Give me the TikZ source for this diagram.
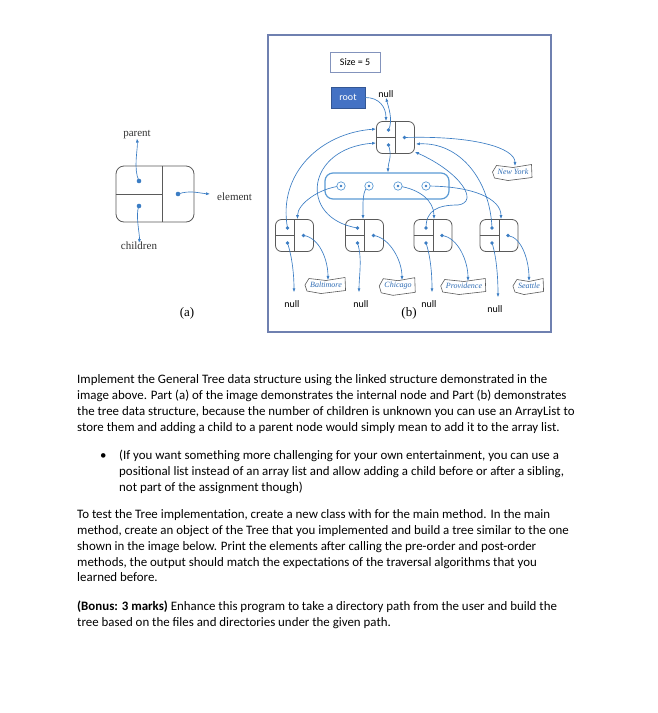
\documentclass[tikz,border=0pt]{standalone}
\usepackage{fontspec}
\setmainfont{Carlito}
\newfontfamily\seriffam{Liberation Serif}
\usetikzlibrary{arrows.meta,calc}
\definecolor{arrowblue}{HTML}{3B7DC4}
\definecolor{framec}{HTML}{6F80B0}
\definecolor{nodegray}{HTML}{5A5A5A}
\definecolor{rootfill}{HTML}{4472C4}
\definecolor{listblue}{HTML}{5B9BD5}
\definecolor{labelblue}{HTML}{2F6DB5}
\definecolor{sizebox}{HTML}{8393BC}
\newcommand\treenode[3]{%
  \node[tn] (#1) at (#2,#3) {};
  \draw[tdiv] (#1.north) -- (#1.south);
  \draw[tdiv] (#1.west) -- (#1.center);
  \coordinate (#1p) at ($(#1.center)+(-7,-7.5)$);
  \coordinate (#1c) at ($(#1.center)+(-7,7.5)$);
  \coordinate (#1e) at ($(#1.center)+(9,0)$);
}
\newcommand\wavy[1]{%
  \draw[lblline] ([xshift=1pt,yshift=1.5pt]#1.north west) -- ([yshift=-0.5pt]#1.north)
   -- ([xshift=1pt,yshift=2.5pt]#1.north east) -- ([xshift=1.5pt,yshift=-0.5pt]#1.south east)
   -- ([xshift=-5pt,yshift=-3.5pt]#1.south) -- ([xshift=-1pt,yshift=-1pt]#1.south west)
   -- ([xshift=-3pt]#1.west) -- cycle;}
\begin{document}
\begin{tikzpicture}[x=1pt,y=-1pt,
  arr/.style={draw=arrowblue, line width=0.65pt, -{Latex[length=4pt,width=3pt]}},
  tn/.style={draw=nodegray, line width=0.8pt, rounded corners=6pt, minimum width=38pt, minimum height=32pt, inner sep=0pt},
  tdiv/.style={draw=nodegray, line width=0.8pt},
  lblline/.style={draw=nodegray, line width=0.6pt, line join=round},
  body/.style={anchor=base west, inner sep=0pt, font=\fontsize{12.9}{16}\selectfont},
  nul/.style={font=\fontsize{10}{12}\selectfont, inner sep=1pt},
  elab/.style={font=\seriffam\itshape\fontsize{8}{10}\selectfont, text=labelblue, inner sep=2pt},
  plab/.style={font=\seriffam\fontsize{11}{13}\selectfont, text=black!80, inner sep=1pt},
  captext/.style={font=\seriffam\fontsize{13}{15}\selectfont, inner sep=1pt}
]
\useasboundingbox (0,0) rectangle (657,713);
\fill[white] (0,0) rectangle (657,713);

% ---------- part (a) ----------
\node[draw=nodegray, line width=0.8pt, rounded corners=8pt, minimum width=78pt, minimum height=56pt, inner sep=0pt] (an) at (155,194) {};
\coordinate (adivt) at (162,166);
\coordinate (adivb) at (162,222);
\draw[tdiv] (adivt) -- (adivb);
\draw[tdiv] (an.west) -- (162,194);
\coordinate (ap) at (139,181);
\coordinate (ac) at (139,206);
\coordinate (ae) at (178,194);
\node[plab] (parentl) at (137,135) {parent};
\node[plab] (childl) at (139,246) {children};
\node[plab, anchor=west] (eleml) at (216,197) {element};
\draw[arr] (ap) .. controls +(-6,-12) and +(1,10) .. ([yshift=2pt]parentl.south);
\draw[arr] (ac) .. controls +(-4,8) and +(1,-8) .. ([yshift=-2pt]childl.north);
\draw[arr] (ae) .. controls +(12,-4) and +(-12,-1) .. ([xshift=-6pt,yshift=3pt]eleml.west);
\foreach \d in {ap,ac,ae} \fill[arrowblue] (\d) circle (2.3pt);
\node[captext] (capa) at (187,313) {(a)};

% ---------- part (b) ----------
\node[draw=framec, line width=1.5pt, minimum width=283pt, minimum height=297pt, inner sep=0pt] (frame) at (409.5,183.5) {};
\node[draw=sizebox, line width=0.8pt, minimum width=50pt, minimum height=20pt, inner sep=0pt, font=\fontsize{10}{12}\selectfont] (size) at (355,62) {Size = 5};
\node[fill=rootfill, draw=rootfill!75!black, line width=0.6pt, text=white, minimum width=34pt, minimum height=21pt, inner sep=0pt, font=\fontsize{10}{12}\selectfont] (root) at (348,97.5) {root};
\node[nul] (nullr) at (386,94) {null};

\treenode{r}{395.5}{137.5}
\treenode{ca}{294.5}{235.5}
\treenode{cb}{364.5}{235.5}
\treenode{cc}{433}{235.5}
\treenode{cd}{499}{235.5}

% array list
\node[draw=listblue, line width=1.2pt, rounded corners=8pt, minimum width=124pt, minimum height=26pt, inner sep=0pt] (alist) at (387,186) {};
\coordinate (la) at (341,186);
\coordinate (lb) at (369,186);
\coordinate (lc) at (398,186);
\coordinate (ld) at (426,186);

% element labels
\node[elab] (ny) at (513,172) {New York};
\node[elab] (bal) at (326,285) {Baltimore};
\node[elab] (chi) at (398,286) {Chicago};
\node[elab] (pro) at (464,286) {Providence};
\node[elab] (sea) at (529,286) {Seattle};
\foreach \n in {ny,bal,chi,pro,sea} {\wavy{\n}}

% nulls
\node[nul] (na) at (292,304) {null};
\node[nul] (nb) at (361,304) {null};
\node[nul] (nc) at (429,304) {null};
\node[nul] (nd) at (495,309) {null};
\node[captext] (capb) at (409,313) {(b)};

% root connectors
\coordinate (rtop) at ($(r.north)+(-9.5,0)$);
\draw[arr] (root.east) .. controls +(14,0) and +(0,-14) .. (rtop);
\draw[arr] (rp) .. controls +(5,-10) and +(2,8) .. ([yshift=1pt]nullr.south);
\draw[arr] (rc) .. controls +(4,12) and +(0,-10) .. ([xshift=1pt]alist.north);
\draw[arr] (re) .. controls +(70,-2) and +(0,-18) .. ([xshift=2pt,yshift=1pt]ny.north);

% parent links
\coordinate (rlu) at ($(r.west)+(0,-8.5)$);
\coordinate (rll) at ($(r.west)+(0,5.5)$);
\coordinate (rru) at ($(r.east)+(1,6.5)$);
\coordinate (rrl) at ($(r.south east)+(0,-2)$);
\draw[arr] (cap) .. controls +(-10,-55) and +(-55,4) .. (rlu);
\draw[arr] (cbp) .. controls +(-60,-10) and +(-70,5) .. (rll);
\draw[arr] (cdp) .. controls +(-2,-48) and +(44,-2) .. (rru);
\coordinate (wrap) at (458,205);
\draw[arr] (ccp) .. controls +(0,-18) and +(-20,0) .. (wrap) .. controls +(22,-3) and +(45,20) .. (rrl);

% list to children
\draw[arr] (la) .. controls +(-22,2) and +(0,-15) .. ([xshift=3pt]ca.north);
\draw[arr] (lb) .. controls +(-7,3) and +(0,-15) .. ([xshift=-1.5pt]cb.north);
\draw[arr] (lc) .. controls +(22,3) and +(0,-18) .. ([xshift=1pt]cc.north);
\draw[arr] (ld) .. controls +(48,0) and +(0,-20) .. ([xshift=2pt]cd.north);

% element links
\draw[arr] (cae) .. controls +(16,2) and +(0,-20) .. ([xshift=2pt]bal.north);
\draw[arr] (cbe) .. controls +(16,2) and +(0,-20) .. ([xshift=4pt]chi.north);
\draw[arr] (cce) .. controls +(16,2) and +(0,-20) .. ([xshift=4pt]pro.north);
\draw[arr] (cde) .. controls +(14,2) and +(0,-20) .. (sea.north);

% children to null
\draw[arr] (cac) .. controls +(5,15) and +(0,-16) .. ([xshift=2pt,yshift=7pt]na.north);
\draw[arr] (cbc) .. controls +(5,15) and +(0,-16) .. ([xshift=-2pt,yshift=7pt]nb.north);
\draw[arr] (ccc) .. controls +(5,15) and +(0,-16) .. ([xshift=3pt,yshift=7pt]nc.north);
\draw[arr] (cdc) .. controls +(5,15) and +(0,-16) .. ([xshift=3pt,yshift=7pt]nd.north);

% dots
\foreach \d in {rp,rc,re,cap,cac,cae,cbp,cbc,cbe,ccp,ccc,cce,cdp,cdc,cde} \fill[arrowblue] (\d) circle (1.9pt);
\foreach \d in {la,lb,lc,ld} {\draw[listblue, line width=0.7pt, fill=white] (\d) circle (4.2pt); \fill[arrowblue] (\d) circle (1.4pt);}

% ---------- text ----------
\node[body] (t1) at (77,383) {Implement the General Tree data structure using the linked structure demonstrated in the};
\node[body] (t2) at (77,399) {image above. Part (a) of the image demonstrates the internal node and Part (b) demonstrates};
\node[body] (t3) at (77,415) {the tree data structure, because the number of children is unknown you can use an ArrayList to};
\node[body] (t4) at (77,431) {store them and adding a child to a parent node would simply mean to add it to the array list.};
\node[body] (bul) at (100,459) {•};
\node[body] (b1) at (119,459) {(If you want something more challenging for your own entertainment, you can use a};
\node[body] (b2) at (119,475) {positional list instead of an array list and allow adding a child before or after a sibling,};
\node[body] (b3) at (119,491) {not part of the assignment though)};
\node[body] (s1) at (77,518) {To test the Tree implementation, create a new class with for the main method. In the main};
\node[body] (s2) at (77,534) {method, create an object of the Tree that you implemented and build a tree similar to the one};
\node[body] (s3) at (77,550) {shown in the image below. Print the elements after calling the pre-order and post-order};
\node[body] (s4) at (77,566) {methods, the output should match the expectations of the traversal algorithms that you};
\node[body] (s5) at (77,581) {learned before.};
\node[body] (u1) at (77,610) {\textbf{(Bonus: 3 marks)} Enhance this program to take a directory path from the user and build the};
\node[body] (u2) at (77,626) {tree based on the files and directories under the given path.};
\end{tikzpicture}
\end{document}
